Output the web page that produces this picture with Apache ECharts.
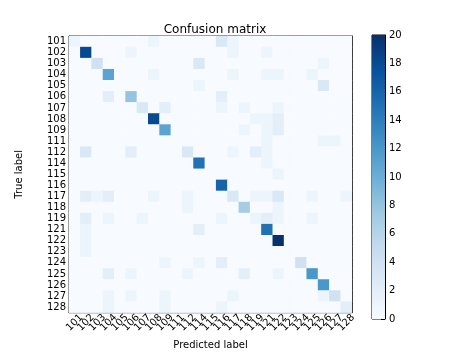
<!DOCTYPE html>
<html>
<head>
<meta charset="utf-8">
<script src="https://cdn.jsdelivr.net/npm/echarts@6/dist/echarts.min.js"></script>
<style>html,body{margin:0;padding:0;background:#fff}#c{width:474px;height:355px}</style>
</head>
<body>
<div id="c"></div>
<script>
const labels = ['101','102','103','104','105','106','107','108','109','111','112','114','115','116','117','118','119','121','122','123','124','125','126','127','128'];
// counts[trueIdx][predIdx]
const counts = [
 [1,0,0,0,0,0,0,1,0,0,0,0,0,3,1,0,0,0,0,0,0,0,0,0,0],
 [0,18,0,0,0,1,0,0,0,0,0,0,0,0,1,0,0,1,0,0,0,0,0,0,0],
 [0,0,4,0,0,0,0,0,0,0,0,3,0,0,0,0,0,0,0,0,0,0,1,0,0],
 [0,0,0,11,0,0,0,1,0,0,0,0,0,0,1,0,0,1,1,0,0,1,0,0,0],
 [0,0,0,0,0,0,0,0,0,0,0,1,0,0,0,0,0,0,0,0,0,0,3,0,0],
 [0,0,0,2,0,8,0,0,0,0,0,0,0,2,0,0,0,0,0,0,0,0,0,0,0],
 [0,0,0,0,0,0,3,0,2,0,0,0,0,1,0,1,0,0,1,0,0,0,0,0,0],
 [0,0,0,0,0,0,0,18,0,0,0,0,0,0,0,0,1,1,2,0,0,0,0,0,0],
 [0,0,0,0,0,0,0,0,11,0,0,0,0,0,0,1,0,1,2,0,0,0,0,0,0],
 [0,0,0,0,0,0,0,0,0,0,0,0,0,0,0,0,0,1,0,0,0,0,1,1,0],
 [0,3,0,0,0,2,0,0,0,0,3,0,0,0,1,0,2,1,0,0,0,0,0,0,0],
 [0,0,0,0,0,0,0,0,0,0,0,15,0,0,0,0,0,1,0,0,0,0,0,0,0],
 [0,0,0,0,0,0,0,0,0,0,0,0,0,0,0,0,0,0,1,0,0,0,0,0,0],
 [0,0,0,0,0,0,0,0,0,0,0,0,0,16,0,0,0,0,0,0,0,0,0,0,0],
 [0,2,1,2,0,0,0,1,0,0,1,0,0,0,3,0,1,1,3,0,0,1,0,0,1],
 [0,0,0,0,0,0,0,0,0,0,1,0,0,0,0,7,0,0,1,0,0,0,0,0,0],
 [0,2,0,1,0,0,1,0,0,0,0,0,0,1,0,0,1,2,1,0,0,1,0,0,0],
 [0,1,0,0,0,0,0,0,0,0,0,2,0,0,0,0,0,15,0,0,0,0,0,0,0],
 [0,1,0,0,0,0,0,0,0,0,0,0,0,0,0,0,0,0,20,0,0,0,0,0,0],
 [0,1,0,0,0,0,0,0,0,0,0,0,0,0,0,0,0,0,0,0,0,0,0,0,0],
 [0,0,0,0,0,0,0,0,1,0,0,1,0,2,0,0,0,0,0,0,4,0,0,0,0],
 [0,0,0,2,0,1,0,0,0,0,1,0,0,0,0,2,0,0,1,0,0,12,0,0,0],
 [0,0,0,0,0,0,0,0,0,0,0,0,0,0,0,0,0,0,0,0,0,0,12,0,0],
 [0,0,0,1,0,1,0,0,1,0,0,0,0,0,1,0,0,0,0,0,0,0,1,4,0],
 [0,0,0,1,0,0,0,0,1,0,0,0,0,1,0,0,0,0,0,0,0,0,0,0,2]
];
const colorbarMax = 20;
const colorbarStep = 2;
const blues = ['#f7fbff','#deebf7','#c6dbef','#9ecae1','#6baed6','#4292c6','#2171b5','#08519c','#08306b'];

const heat = [];
counts.forEach((row, i) => row.forEach((v, j) => heat.push([j, i, v])));

const FONT = 'DejaVu Sans';
const chart = echarts.init(document.getElementById('c'), null, {renderer: 'canvas'});
const tickStyle = {show: true, inside: true, length: 4, alignWithLabel: true, lineStyle: {color: '#000', width: 1}};
chart.setOption({
  animation: false,
  backgroundColor: '#fff',
  title: {
    text: 'Confusion matrix', left: 210, top: 19, textAlign: 'center',
    textStyle: {fontFamily: FONT, fontSize: 12, fontWeight: 'normal', color: '#000'}
  },
  grid: [
    {left: 69, top: 36, width: 283, height: 282, show: true, borderColor: '#000', borderWidth: 1, backgroundColor: 'transparent'},
    {left: 372, top: 35, width: 13, height: 284, show: true, borderColor: '#000', borderWidth: 1, backgroundColor: 'transparent'}
  ],
  xAxis: [
    {type: 'category', data: labels, gridIndex: 0, position: 'bottom',
     axisLine: {show: true, lineStyle: {color: '#000'}}, axisTick: tickStyle,
     axisLabel: {rotate: 45, fontFamily: FONT, fontSize: 10, color: '#000', margin: 10, interval: 0,
                 align: 'center', verticalAlign: 'middle'},
     name: 'Predicted label', nameLocation: 'middle', nameGap: 25,
     nameTextStyle: {fontFamily: FONT, fontSize: 10, color: '#000'},
     splitLine: {show: false}},
    {type: 'category', data: labels, gridIndex: 0, position: 'top',
     axisLine: {show: true, lineStyle: {color: '#000'}}, axisTick: tickStyle,
     axisLabel: {show: false}, splitLine: {show: false}},
    {type: 'category', data: [''], gridIndex: 1, show: false}
  ],
  yAxis: [
    {type: 'category', data: labels, gridIndex: 0, inverse: true, position: 'left',
     axisLine: {show: true, lineStyle: {color: '#000'}}, axisTick: tickStyle,
     axisLabel: {fontFamily: FONT, fontSize: 10, color: '#000', margin: 3, interval: 0},
     name: 'True label', nameLocation: 'middle', nameGap: 45, nameRotate: 90,
     nameTextStyle: {fontFamily: FONT, fontSize: 10, color: '#000'},
     splitLine: {show: false}},
    {type: 'category', data: labels, gridIndex: 0, inverse: true, position: 'right',
     axisLine: {show: true, lineStyle: {color: '#000'}}, axisTick: tickStyle,
     axisLabel: {show: false}, splitLine: {show: false}},
    {type: 'value', gridIndex: 1, min: 0, max: colorbarMax, interval: colorbarStep, position: 'right',
     axisLine: {show: true, lineStyle: {color: '#000'}},
     axisTick: {show: true, inside: true, length: 4, lineStyle: {color: '#000'}},
     axisLabel: {fontFamily: FONT, fontSize: 10, color: '#000', margin: 4},
     splitLine: {show: false}}
  ],
  visualMap: {
    type: 'continuous', min: 0, max: colorbarMax, show: false, seriesIndex: 0,
    inRange: {color: blues}
  },
  series: [
    {type: 'heatmap', xAxisIndex: 0, yAxisIndex: 0, data: heat,
     itemStyle: {borderWidth: 0}, emphasis: {disabled: true}},
    {type: 'bar', xAxisIndex: 2, yAxisIndex: 2, data: [colorbarMax], barWidth: '100%',
     itemStyle: {color: {type: 'linear', x: 0, y: 0, x2: 0, y2: 1,
       colorStops: blues.slice().reverse().map((c, k) => ({offset: k / (blues.length - 1), color: c}))}},
     silent: true}
  ]
});
</script>
</body>
</html>
